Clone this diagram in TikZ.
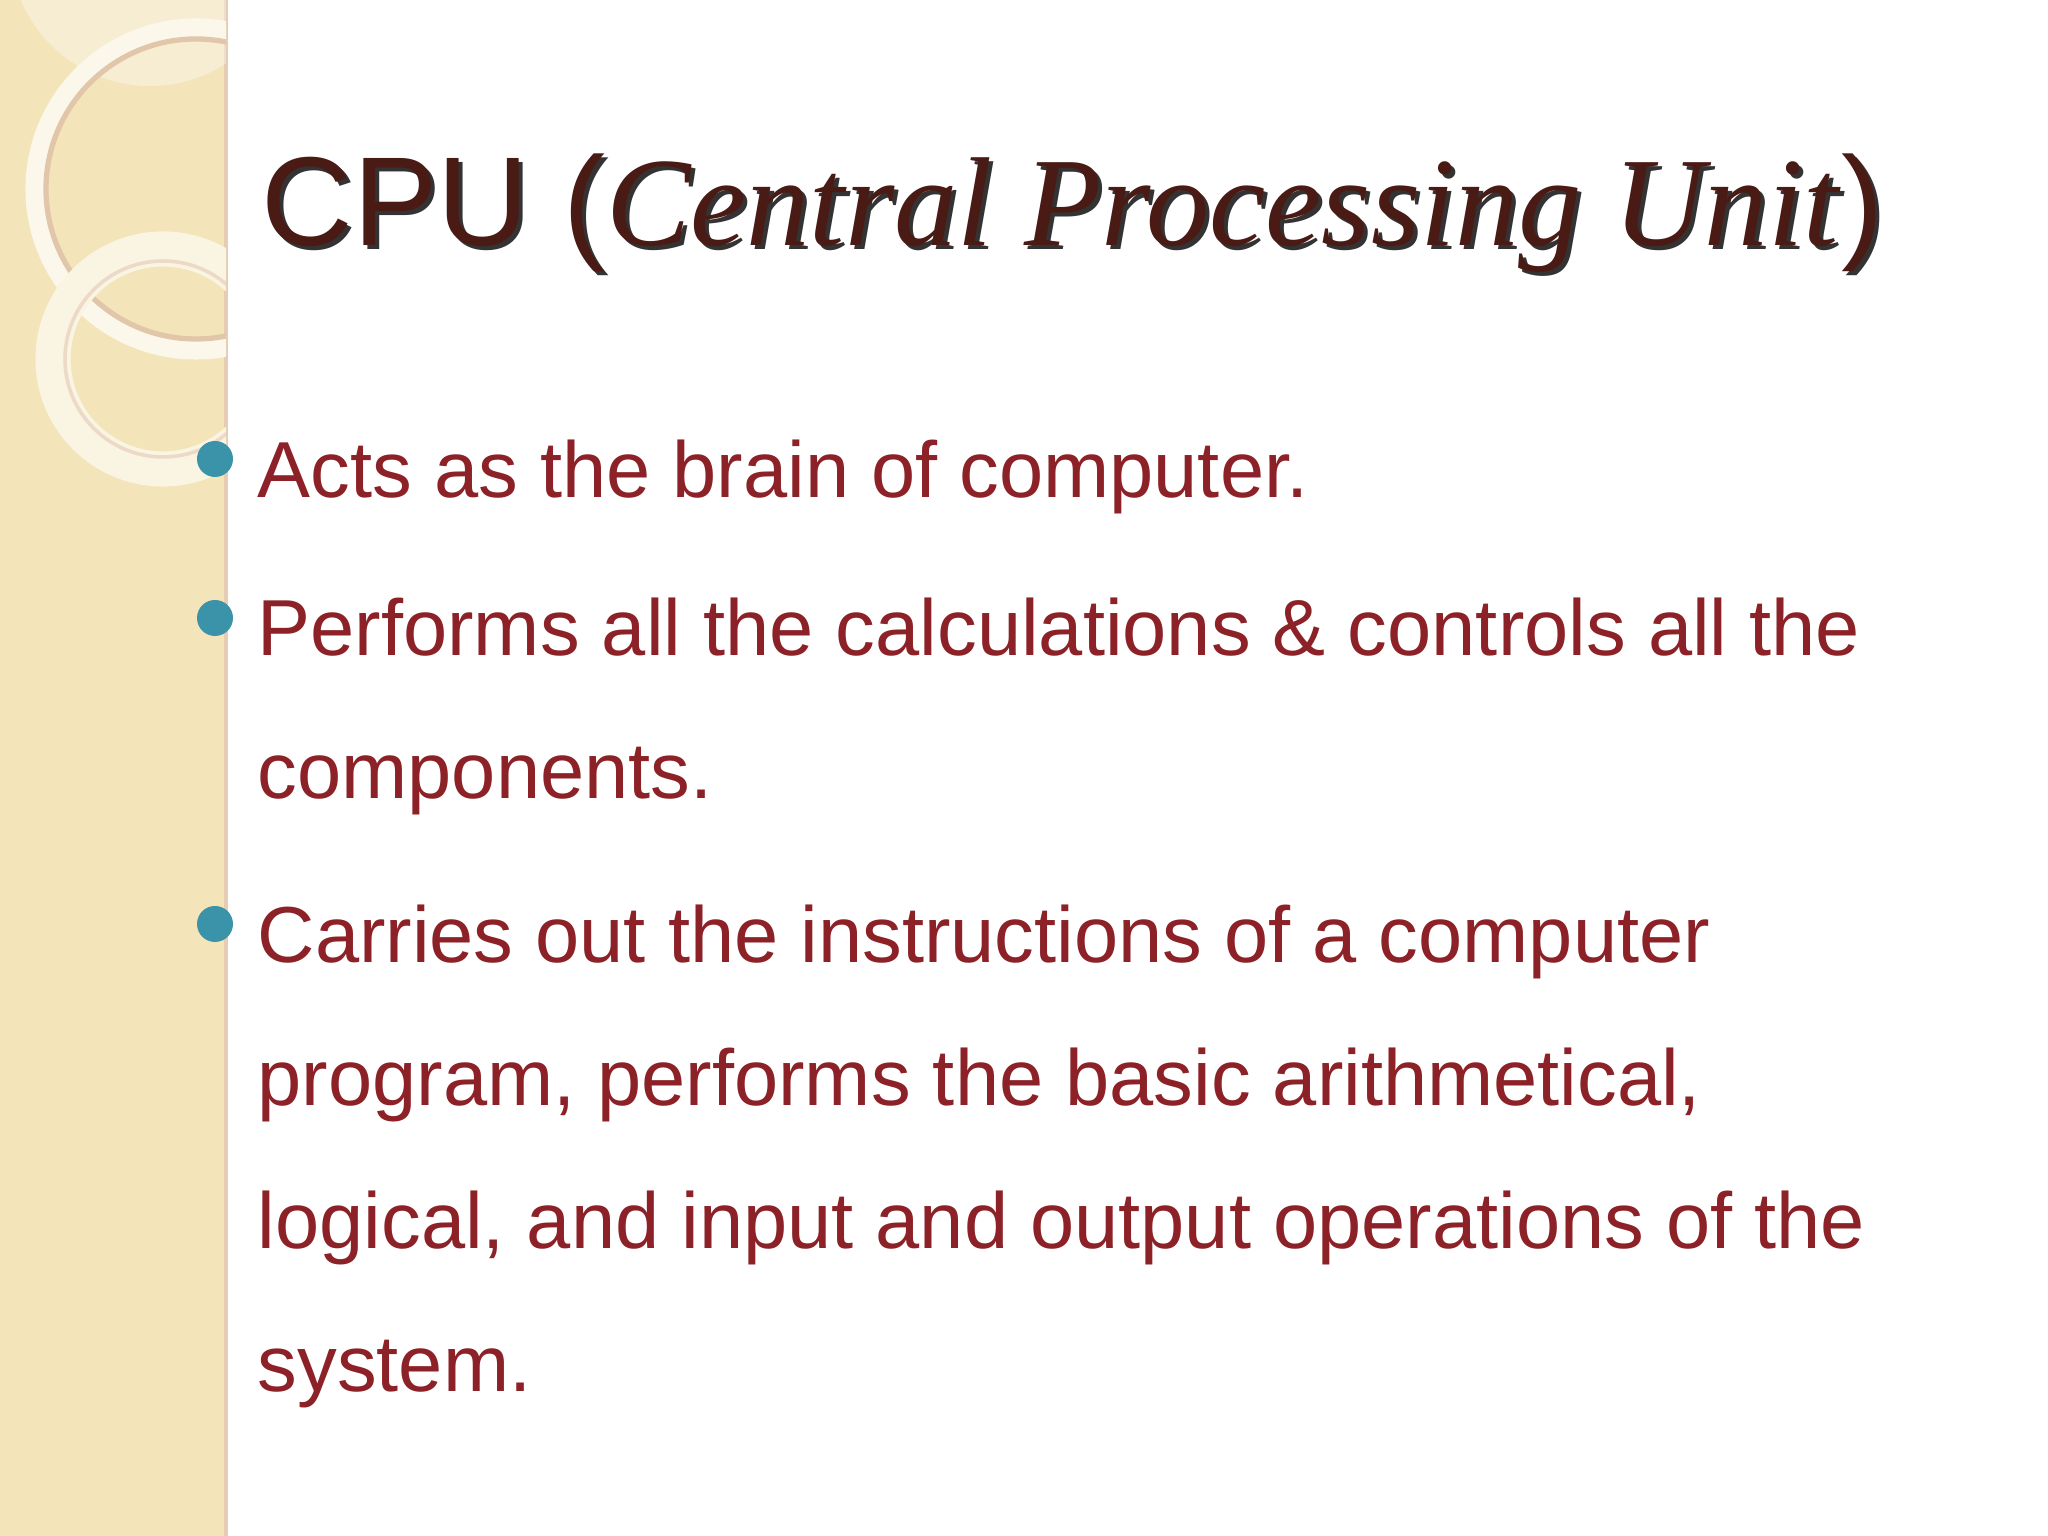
\documentclass[tikz,border=0pt]{standalone}
\usepackage{fontspec}
\setmainfont{Liberation Sans}
\newfontfamily\titleserif{Liberation Serif}
\definecolor{strip}{HTML}{F3E4BA}
\definecolor{txt}{HTML}{8C2228}
\definecolor{ttl}{HTML}{4A1A14}
\definecolor{dot}{HTML}{3A93A8}
\tikzset{
 bul/.style={anchor=base west,text=txt,font=\fontsize{22.6}{23}\selectfont,inner sep=0pt},
 bdot/.style={circle,fill=dot,minimum size=0.36cm,inner sep=0pt},
 ttlstyle/.style={anchor=base west,inner sep=0pt,font=\fontsize{36}{36}\selectfont}
}
\begin{document}
\begin{tikzpicture}
\useasboundingbox (0,0) rectangle (20.48,15.36);
\fill[white] (0,0) rectangle (20.48,15.36);
\fill[strip] (0,0) rectangle (2.26,15.36);
\draw[line width=1.2pt,color=brown!40] (2.26,0) -- (2.26,15.36);
\begin{scope}
\clip (0,0) rectangle (2.26,15.36);
\fill[white,opacity=0.35] (1.5,15.9) circle (1.4);
\draw[line width=6pt,color=white!70!strip] (1.96,13.47) circle (1.6);
\draw[line width=1.5pt,color=brown!45] (1.96,13.47) circle (1.5);
\draw[line width=10pt,color=white!60!strip] (1.63,11.77) circle (1.1);
\draw[line width=1pt,color=brown!30] (1.63,11.77) circle (0.98);
\end{scope}
% title
\node[ttlstyle,text=black!80] at (2.65,12.86)
 {CPU (\textit{\titleserif Central Processing Unit})};
\node[ttlstyle,text=ttl] (title) at (2.61,12.90)
 {CPU (\textit{\titleserif Central Processing Unit})};
% bullets
\node[bdot] (d1) at (2.15,10.77) {};
\node[bdot] (d2) at (2.15,9.18) {};
\node[bdot] (d3) at (2.15,6.12) {};
\node[bul] (l1) at (2.57,10.38) {Acts as the brain of computer.};
\node[bul] (l2) at (2.57,8.80) {Performs all the calculations \& controls all the};
\node[bul] (l3) at (2.57,7.37) {components.};
\node[bul] (l4) at (2.57,5.73) {Carries out the instructions of a computer};
\node[bul] (l5) at (2.57,4.30) {program, performs the basic arithmetical,};
\node[bul] (l6) at (2.57,2.87) {logical, and input and output operations of the};
\node[bul] (l7) at (2.57,1.44) {system.};
\end{tikzpicture}
\end{document}
